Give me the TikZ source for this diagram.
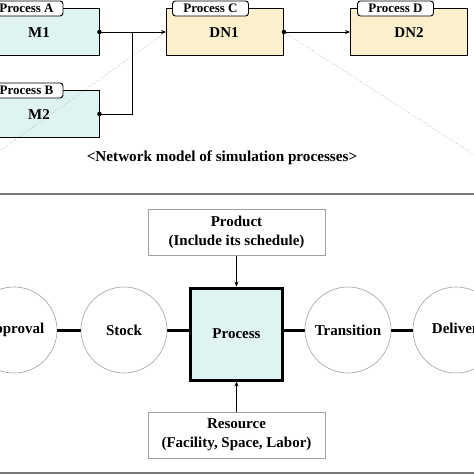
\documentclass[tikz,border=0pt]{standalone}
\usepackage{fontspec}
\setmainfont{Liberation Serif}
\usetikzlibrary{arrows.meta}
\definecolor{cyanbox}{RGB}{223,243,243}
\definecolor{yellowbox}{RGB}{252,240,204}
\definecolor{sepgray}{RGB}{120,120,120}
\definecolor{lightgray}{RGB}{160,160,160}
\tikzset{
  simbox/.style={draw=black, line width=0.9pt, minimum width=117pt, minimum height=47pt, inner sep=0pt, font=\bfseries\fontsize{15}{18}\selectfont},
  tabbox/.style={draw=black, line width=0.9pt, fill=white, rounded corners=3pt, minimum width=76pt, minimum height=15pt, inner sep=0pt, font=\bfseries\fontsize{13}{15}\selectfont},
  junc/.style={circle, fill=black, inner sep=0pt, minimum size=4.5pt},
  flow/.style={line width=0.8pt, -{Stealth[length=5pt,width=4pt]}},
  guide/.style={lightgray, line width=0.6pt, dotted},
  infobox/.style={draw=lightgray, line width=0.8pt, minimum width=177pt, minimum height=46pt, align=center, inner sep=0pt, font=\bfseries\fontsize{15}{19}\selectfont},
  stage/.style={circle, draw=lightgray, line width=0.6pt, minimum size=86pt, inner sep=0pt, font=\bfseries\fontsize{15}{18}\selectfont},
  link/.style={line width=3pt},
  caption/.style={font=\bfseries\fontsize{15.2}{18}\selectfont},
  boxlabel/.style={font=\bfseries\fontsize{15}{18}\selectfont}
}
\begin{document}
\begin{tikzpicture}[x=1pt,y=-1pt]
\useasboundingbox (0,0) rectangle (474,474);
\fill[white] (0,0) rectangle (474,474);
\clip (0,0) rectangle (474,474);
% top network
\node[simbox, fill=cyanbox] (m1) at (40.5,32) {};
\node[boxlabel] (m1t) at (39,33) {M1};
\node[tabbox] (ta) at (25,8.5) {};
\node[font=\bfseries\fontsize{13}{15}\selectfont] (tat) at (26.5,8.5) {Process A};
\node[simbox, fill=cyanbox] (m2) at (40.5,114) {};
\node[boxlabel] (m2t) at (39,115) {M2};
\node[tabbox] (tb) at (25,90.5) {};
\node[font=\bfseries\fontsize{13}{15}\selectfont] (tbt) at (26.5,90.5) {Process B};
\node[simbox, fill=yellowbox] (c) at (225,32) {};
\node[boxlabel] (ct) at (224,33) {DN1};
\node[tabbox] (tc) at (210.5,8.5) {Process C};
\node[simbox, fill=yellowbox] (d) at (409,32) {};
\node[boxlabel] (dt) at (409,33) {DN2};
\node[tabbox] (td) at (395.5,8.5) {Process D};
\coordinate (jn) at (132,32);
\coordinate (dl) at (-2,152);
\coordinate (dr) at (476,156);
\draw[guide] (c.west) -- (dl);
\draw[guide] (c.east) -- (dr);
\draw[flow] (m1.east) -- (c.west);
\draw[line width=0.8pt] (m2.east) -| (jn);
\draw[flow] (c.east) -- (d.west);
\node[junc] (j1) at (m1.east) {};
\node[junc] (j2) at (m2.east) {};
\node[junc] (j3) at (c.east) {};
\node[caption] (cap) at (222,158) {<Network model of simulation processes>};
% separator
\coordinate (sl) at (0,194);
\coordinate (sr) at (474,194);
\draw[sepgray, line width=1.3pt] (sl) -- (sr);
% bottom model
\node[infobox] (prod) at (236.5,232.5) {Product\\(Include its schedule)};
\node[draw=black, line width=3pt, fill=cyanbox, minimum width=92pt, minimum height=92pt, inner sep=0pt, font=\bfseries\fontsize{15}{18}\selectfont] (proc) at (236.5,334) {Process};
\node[infobox] (res) at (236.5,435) {Resource\\(Facility, Space, Labor)};
\draw[flow] (prod.south) -- (proc.north);
\draw[flow] (res.north) -- (proc.south);
\node[stage] (appr) at (14,330) {Approval};
\node[stage] (stock) at (124,330) {Stock};
\node[stage] (trans) at (348,330) {Transition};
\node[stage] (deliv) at (456,330) {};
\node[boxlabel] (delivt) at (459,330) {Delivery};
\draw[link] (appr.east) -- (stock.west);
\draw[link] (stock.east) -- (proc.west |- stock.east);
\draw[link] (proc.east |- trans.west) -- (trans.west);
\draw[link] (trans.east) -- (deliv.west);
\fill[sepgray] (0,471.5) rectangle (474,474);
\end{tikzpicture}
\end{document}
